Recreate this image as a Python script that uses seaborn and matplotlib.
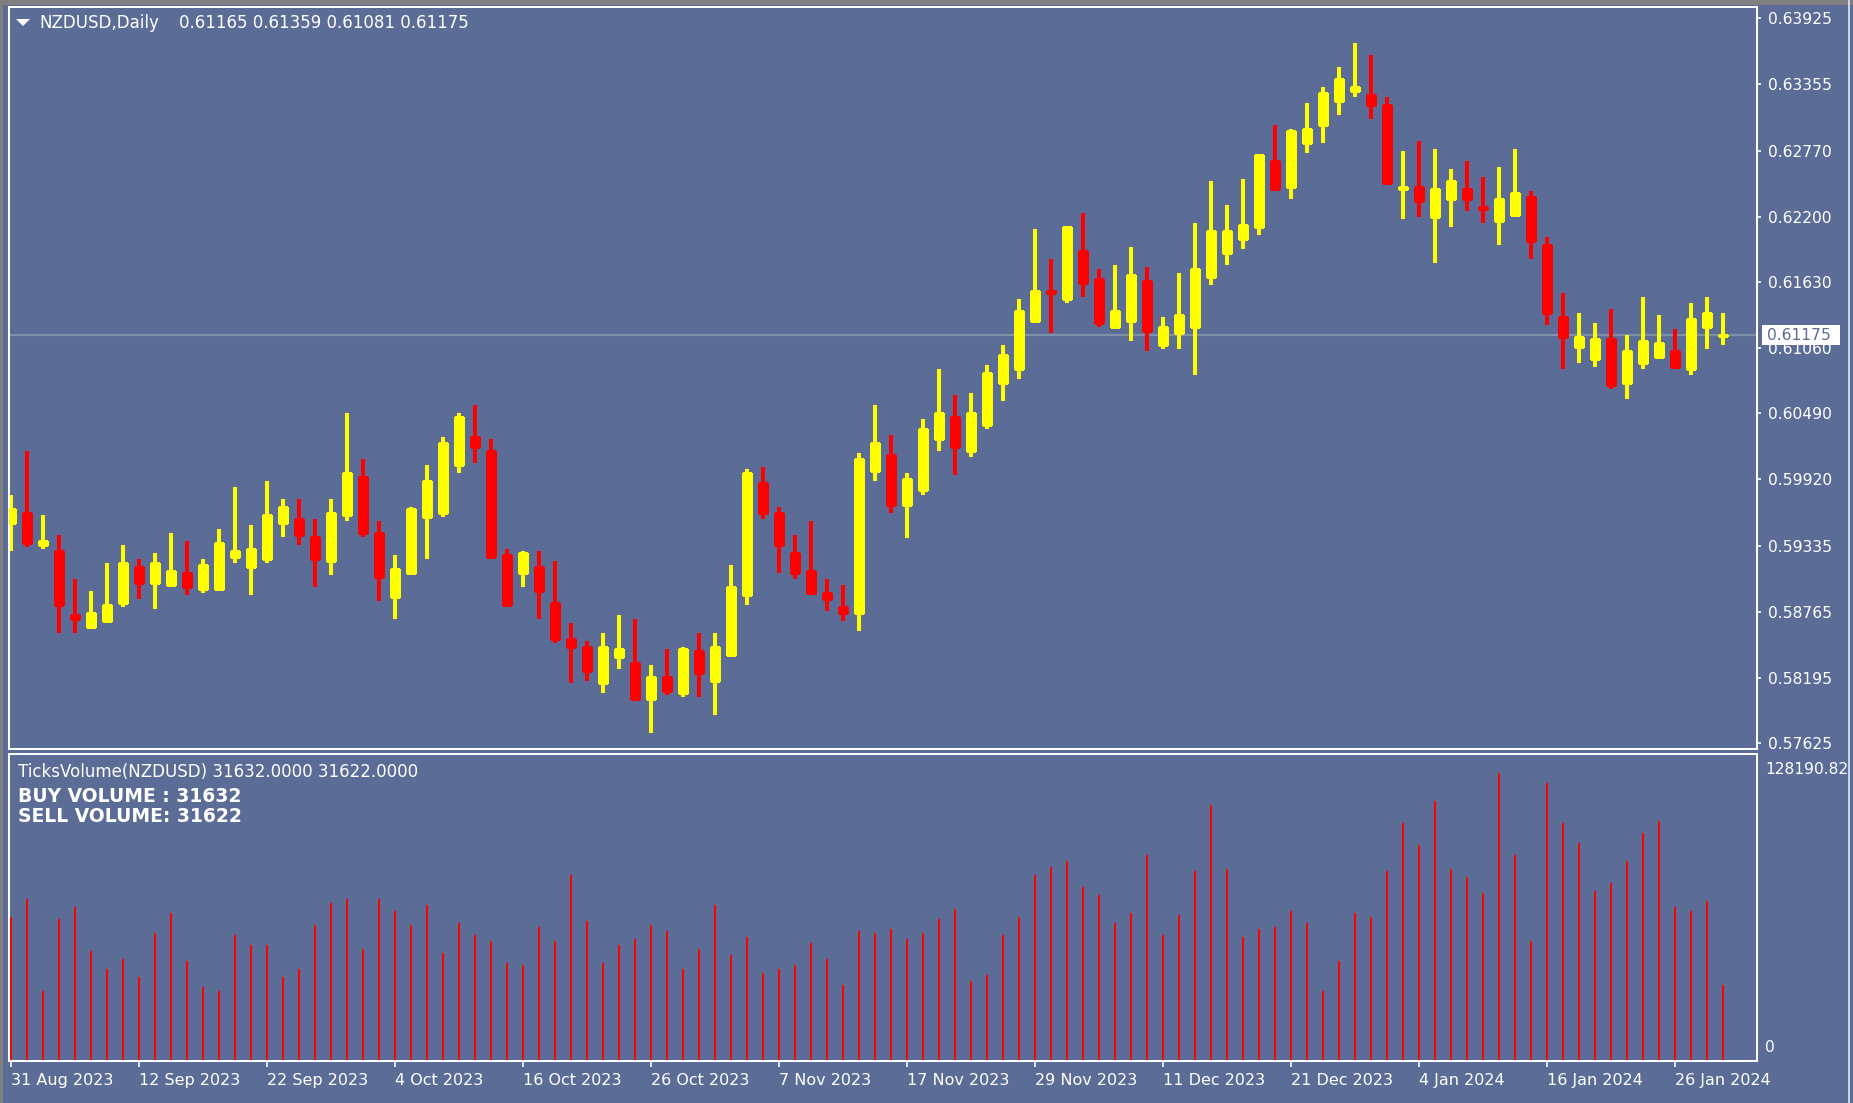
import numpy as np
import pandas as pd
import matplotlib
matplotlib.use("Agg")
import matplotlib.pyplot as plt
from matplotlib.patches import Rectangle, Polygon
import seaborn as sns

# ---------------- data ----------------
symbol_name = "NZDUSD,Daily"
symbol_values = "0.61165 0.61359 0.61081 0.61175"
volume_header = "TicksVolume(NZDUSD) 31632.0000 31622.0000"
buy_text = "BUY VOLUME : 31632"
sell_text = "SELL VOLUME: 31622"
last_price = 0.61175
last_price_label = "0.61175"
volume_scale_max = 128190.82
volume_scale_labels = ["128190.82", "0"]

price_ticks = [0.63925, 0.63355, 0.62770, 0.62200, 0.61630, 0.61060,
               0.60490, 0.59920, 0.59335, 0.58765, 0.58195, 0.57625]
price_tick_labels = ["0.63925", "0.63355", "0.62770", "0.62200", "0.61630", "0.61060",
                     "0.60490", "0.59920", "0.59335", "0.58765", "0.58195", "0.57625"]

date_tick_labels = ["31 Aug 2023", "12 Sep 2023", "22 Sep 2023", "4 Oct 2023",
                    "16 Oct 2023", "26 Oct 2023", "7 Nov 2023", "17 Nov 2023",
                    "29 Nov 2023", "11 Dec 2023", "21 Dec 2023", "4 Jan 2024",
                    "16 Jan 2024", "26 Jan 2024"]
holidays = ["2023-12-25", "2024-01-01"]

opens = [0.59537, 0.59624, 0.59346, 0.59294, 0.58738, 0.58633, 0.58685, 0.58842, 0.59155, 0.59016,
         0.58998, 0.59103, 0.58964, 0.58964, 0.59242, 0.59155, 0.59224, 0.59537, 0.59572, 0.59415,
         0.59207, 0.59607, 0.59937, 0.59450, 0.58894, 0.59103, 0.59589, 0.59624, 0.60041, 0.60284,
         0.60163, 0.59259, 0.59103, 0.59155, 0.58842, 0.58529, 0.58460, 0.58147, 0.58373, 0.58321,
         0.58008, 0.58199, 0.58060, 0.58425, 0.58164, 0.58390, 0.58911, 0.59885, 0.59624, 0.59276,
         0.59120, 0.58929, 0.58807, 0.58755, 0.59989, 0.60128, 0.59694, 0.59824, 0.60267, 0.60458,
         0.60163, 0.60389, 0.60754, 0.60875, 0.61292, 0.61553, 0.61483, 0.61900, 0.61657, 0.61240,
         0.61292, 0.61640, 0.61084, 0.61188, 0.61240, 0.61675, 0.61883, 0.62005, 0.62109, 0.62682,
         0.62457, 0.62839, 0.62995, 0.63204, 0.63291, 0.63256, 0.63169, 0.62439, 0.62457, 0.62196,
         0.62352, 0.62439, 0.62283, 0.62161, 0.62213, 0.62370, 0.61953, 0.61327, 0.61066, 0.60962,
         0.61136, 0.60754, 0.60927, 0.60980, 0.61032, 0.60875, 0.61240, 0.61165]
highs = [0.59781, 0.60163, 0.59607, 0.59433, 0.59050, 0.58946, 0.59190, 0.59346, 0.59224, 0.59276,
         0.59450, 0.59381, 0.59224, 0.59485, 0.59850, 0.59520, 0.59902, 0.59746, 0.59746, 0.59572,
         0.59746, 0.60493, 0.60093, 0.59555, 0.59259, 0.59676, 0.60041, 0.60284, 0.60493, 0.60563,
         0.60267, 0.59311, 0.59294, 0.59294, 0.59207, 0.58668, 0.58512, 0.58581, 0.58738, 0.58703,
         0.58303, 0.58442, 0.58460, 0.58581, 0.58581, 0.59172, 0.60006, 0.60024, 0.59676, 0.59433,
         0.59555, 0.59050, 0.58998, 0.60145, 0.60563, 0.60302, 0.59972, 0.60441, 0.60875, 0.60649,
         0.60667, 0.60910, 0.61084, 0.61483, 0.62092, 0.61831, 0.62109, 0.62231, 0.61744, 0.61779,
         0.61935, 0.61762, 0.61327, 0.61709, 0.62144, 0.62509, 0.62300, 0.62526, 0.62735, 0.62995,
         0.62960, 0.63186, 0.63325, 0.63499, 0.63708, 0.63603, 0.63238, 0.62769, 0.62856, 0.62787,
         0.62613, 0.62682, 0.62543, 0.62630, 0.62787, 0.62422, 0.62022, 0.61536, 0.61362, 0.61275,
         0.61397, 0.61171, 0.61501, 0.61344, 0.61223, 0.61449, 0.61501, 0.61359]
lows = [0.59294, 0.59329, 0.59311, 0.58581, 0.58581, 0.58616, 0.58668, 0.58807, 0.58877, 0.58790,
        0.58998, 0.58911, 0.58929, 0.58964, 0.59190, 0.58911, 0.59190, 0.59415, 0.59346, 0.58981,
        0.59085, 0.59555, 0.59415, 0.58859, 0.58703, 0.59085, 0.59224, 0.59589, 0.59972, 0.60059,
        0.59242, 0.58825, 0.58981, 0.58703, 0.58494, 0.58147, 0.58164, 0.58060, 0.58268, 0.57990,
        0.57712, 0.58042, 0.58025, 0.58025, 0.57869, 0.58373, 0.58825, 0.59572, 0.59103, 0.59050,
        0.58911, 0.58772, 0.58685, 0.58599, 0.59902, 0.59624, 0.59407, 0.59781, 0.60163, 0.59954,
        0.60111, 0.60354, 0.60597, 0.60788, 0.61292, 0.61188, 0.61449, 0.61501, 0.61240, 0.61240,
        0.61119, 0.61032, 0.61049, 0.61049, 0.60823, 0.61605, 0.61779, 0.61918, 0.62040, 0.62439,
        0.62352, 0.62752, 0.62839, 0.63082, 0.63238, 0.63047, 0.62474, 0.62179, 0.62196, 0.61796,
        0.62109, 0.62248, 0.62144, 0.61953, 0.62213, 0.61831, 0.61258, 0.60875, 0.60927, 0.60893,
        0.60702, 0.60615, 0.60875, 0.60980, 0.60893, 0.60823, 0.61049, 0.61081]
closes = [0.59659, 0.59363, 0.59381, 0.58825, 0.58703, 0.58755, 0.58825, 0.59190, 0.59016, 0.59190,
          0.59120, 0.58981, 0.59172, 0.59363, 0.59294, 0.59311, 0.59607, 0.59676, 0.59433, 0.59224,
          0.59624, 0.59972, 0.59450, 0.59068, 0.59137, 0.59659, 0.59902, 0.60232, 0.60458, 0.60198,
          0.59242, 0.58825, 0.59276, 0.58946, 0.58529, 0.58460, 0.58251, 0.58460, 0.58442, 0.58008,
          0.58199, 0.58077, 0.58442, 0.58234, 0.58460, 0.58981, 0.59972, 0.59624, 0.59346, 0.59103,
          0.58929, 0.58877, 0.58755, 0.60093, 0.60232, 0.59694, 0.59920, 0.60354, 0.60493, 0.60198,
          0.60493, 0.60841, 0.60997, 0.61379, 0.61553, 0.61536, 0.62109, 0.61623, 0.61275, 0.61379,
          0.61692, 0.61205, 0.61240, 0.61344, 0.61744, 0.62074, 0.62074, 0.62126, 0.62735, 0.62439,
          0.62943, 0.62960, 0.63273, 0.63395, 0.63325, 0.63169, 0.62491, 0.62457, 0.62335, 0.62439,
          0.62509, 0.62352, 0.62265, 0.62352, 0.62404, 0.61987, 0.61362, 0.61153, 0.61153, 0.61136,
          0.60736, 0.61032, 0.61119, 0.61101, 0.60893, 0.61310, 0.61362, 0.61175]
volumes = [60134, 67651, 29232, 59299, 64310, 45936, 38419, 42595, 35078, 53453,
           61805, 41760, 30902, 29232, 52618, 48442, 48442, 35078, 38419, 56794,
           65981, 67651, 46771, 67651, 62640, 56794, 65146, 45101, 57629, 52618,
           50112, 40925, 40090, 55958, 50112, 77674, 58464, 40925, 48442, 50947,
           56794, 54288, 38419, 46771, 65146, 44266, 51782, 36749, 38419, 40090,
           49277, 42595, 31738, 54288, 53453, 55123, 50947, 53453, 59299, 63475,
           33408, 35914, 52618, 60134, 77674, 81014, 83520, 72662, 69322, 57629,
           61805, 86026, 52618, 60970, 79344, 106906, 80179, 51782, 55123, 55958,
           62640, 57629, 29232, 41760, 61805, 60134, 79344, 99389, 90202, 108576,
           80179, 76838, 70157, 120269, 86026, 50112, 116093, 99389, 91037, 70992,
           74333, 83520, 95213, 100224, 64310, 62640, 66816, 31632]

# ---------------- style ----------------
BG = "#5B6D97"
BULL = "#FFFF00"
BEAR = "#FF0000"
WHITE = "#FFFFFF"
PRICE_LINE = "#8090A8"

sns.set_theme(style="ticks", rc={
    "figure.facecolor": BG, "axes.facecolor": BG, "savefig.facecolor": BG,
    "axes.edgecolor": WHITE, "axes.linewidth": 1.44,
    "xtick.color": WHITE, "ytick.color": WHITE,
    "text.color": WHITE, "axes.labelcolor": WHITE,
})
plt.rcParams["font.family"] = ["DejaVu Sans"]

dates = pd.bdate_range("2023-08-31", "2024-01-31")
dates = dates[~dates.isin(pd.to_datetime(holidays))]
n = len(dates)
assert n == len(opens) == len(volumes)

df = pd.DataFrame({"date": dates, "pos": np.arange(n), "open": opens, "high": highs,
                   "low": lows, "close": closes, "volume": volumes})
df["bull"] = df["close"] >= df["open"]
df["color"] = np.where(df["bull"], BULL, BEAR)

W, H = 1853, 1103
fig = plt.figure(figsize=(W / 100, H / 100), dpi=100)


def frac(l, t, r, b):
    return [l / W, 1 - b / H, (r - l) / W, (b - t) / H]


ax = fig.add_axes(frac(9, 7, 1757, 749))
axv = fig.add_axes(frac(9, 754, 1757, 1061))

# ---- candles ----
ax.vlines(df["pos"], df["low"], df["high"], colors=df["color"], linewidth=1.6,
          antialiased=False, zorder=2)
body_bottom = np.minimum(df["open"], df["close"])
body_height = np.abs(df["close"] - df["open"])
ax.bar(df["pos"], body_height, bottom=body_bottom, width=0.56, color=df["color"],
       edgecolor=df["color"], linewidth=0.75, antialiased=False, zorder=3)
ax.axhline(last_price, color=PRICE_LINE, linewidth=1.6, zorder=1)

ax.set_xlim(-0.125, 109.125)
ax.set_ylim(0.575738, 0.640204)
ax.set_xticks([])
ax.yaxis.tick_right()
ax.set_yticks(price_ticks)
ax.set_yticklabels(price_tick_labels)
ax.tick_params(axis="y", which="both", direction="out", length=3, width=1.2,
               pad=5, labelsize=11.2, colors=WHITE, left=False, right=True)
for sp in ax.spines.values():
    sp.set_visible(True)
    sp.set_color(WHITE)

# ---- volume (seaborn) ----
sns.barplot(data=df, x="pos", y="volume", native_scale=True, width=0.125,
            color=BEAR, saturation=1, errorbar=None, linewidth=0, ax=axv)
axv.set_xlim(-0.125, 109.125)
axv.set_ylim(0, volume_scale_max)
axv.set_xlabel("")
axv.set_ylabel("")
axv.set_yticks([])
tick_dates = pd.to_datetime(date_tick_labels, format="%d %b %Y")
tick_pos = dates.get_indexer(tick_dates)
axv.set_xticks(tick_pos)
axv.set_xticklabels(date_tick_labels)
for lbl in axv.get_xticklabels():
    lbl.set_horizontalalignment("left")
axv.tick_params(axis="x", direction="out", length=4.3, width=1.2, pad=4.5,
                labelsize=11.5, colors=WHITE)
for sp in axv.spines.values():
    sp.set_visible(True)
    sp.set_color(WHITE)


def fx(px):
    return px / W


def fy(py):
    return 1 - py / H


# volume scale labels
fig.text(fx(1765), fy(769), volume_scale_labels[0], fontsize=11.2, color=WHITE,
         ha="left", va="center")
fig.text(fx(1765), fy(1047), volume_scale_labels[1], fontsize=11.2, color=WHITE,
         ha="left", va="center")

# header with triangle
fig.patches.append(Polygon([[fx(16), fy(19)], [fx(30), fy(19)], [fx(23), fy(26)]],
                           closed=True, transform=fig.transFigure, facecolor=WHITE,
                           edgecolor="none", zorder=5))
fig.text(fx(39), fy(22.5), symbol_name, fontsize=12, color=WHITE,
         ha="left", va="center")
fig.text(fx(179), fy(22.5), symbol_values, fontsize=12, color=WHITE,
         ha="left", va="center")

# indicator texts
fig.text(fx(18), fy(772), volume_header, fontsize=12, color=WHITE, ha="left", va="center")
fig.text(fx(18), fy(796), buy_text, fontsize=13.5, fontweight="bold", color=WHITE,
         ha="left", va="center")
fig.text(fx(18), fy(816), sell_text, fontsize=13.5, fontweight="bold", color=WHITE,
         ha="left", va="center")

# current price box
fig.patches.append(Rectangle((fx(1762), fy(345)), (1840 - 1762) / W, 20 / H,
                             transform=fig.transFigure, facecolor=WHITE,
                             edgecolor="none", zorder=6))
fig.text(fx(1767), fy(335), last_price_label, fontsize=11.2, color=BG,
         ha="left", va="center", zorder=7)

# window frame bits
fig.patches.append(Rectangle((0, 0), 3 / W, 1, transform=fig.transFigure,
                             facecolor="#808080", edgecolor="none", zorder=8))
fig.patches.append(Rectangle((0, fy(5)), 1, 5 / H, transform=fig.transFigure,
                             facecolor="#808080", edgecolor="none", zorder=8))
fig.patches.append(Rectangle((fx(1848), 0), 2 / W, 1, transform=fig.transFigure,
                             facecolor="#C9D6EC", edgecolor="none", zorder=8))

fig.savefig("out.png", dpi=100, facecolor=BG)
